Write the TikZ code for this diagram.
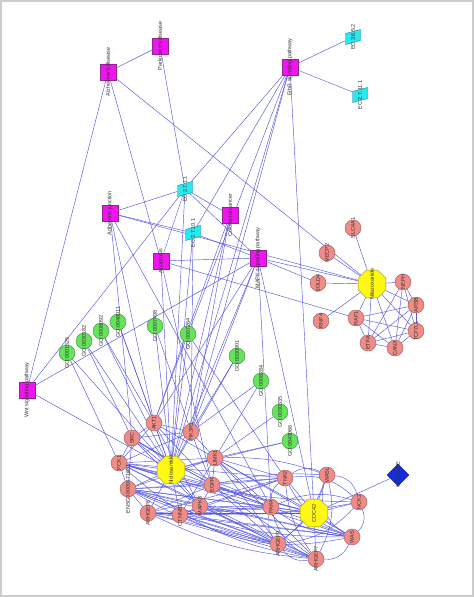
\documentclass[tikz,border=0pt]{standalone}
\usepackage{fontspec}
\newfontfamily\lblfont{Liberation Sans}
\usetikzlibrary{shapes.geometric}
\pgfdeclarelayer{bg}
\pgfsetlayers{bg,main}
\definecolor{edgec}{RGB}{85,85,228}
\definecolor{framec}{RGB}{205,205,205}
\definecolor{pinkc}{RGB}{240,140,135}
\definecolor{pinkd}{RGB}{150,90,90}
\definecolor{hubc}{RGB}{255,248,20}
\definecolor{hubd}{RGB}{140,140,60}
\definecolor{goc}{RGB}{100,228,90}
\definecolor{god}{RGB}{70,140,70}
\definecolor{keggc}{RGB}{240,20,240}
\definecolor{keggd}{RGB}{140,40,140}
\definecolor{ecc}{RGB}{40,232,240}
\definecolor{ecd}{RGB}{40,120,140}
\definecolor{drugc}{RGB}{20,45,225}
\definecolor{drugd}{RGB}{20,20,110}
\tikzset{
  edge/.style={draw=edgec, line width=0.45pt},
  pinknode/.style={circle, draw=pinkd, fill=pinkc, minimum size=16pt, inner sep=0pt, line width=0.4pt},
  hubnode/.style={regular polygon, regular polygon sides=8, draw=hubd, fill=hubc, minimum size=30pt, inner sep=0pt, line width=0.4pt},
  gonode/.style={circle, draw=god, fill=goc, minimum size=16pt, inner sep=0pt, line width=0.4pt},
  keggnode/.style={rectangle, draw=keggd, fill=keggc, minimum size=16pt, inner sep=0pt, line width=0.4pt},
  ecnode/.style={rectangle, draw=ecd, fill=ecc, minimum width=15pt, minimum height=11pt, inner sep=0pt, yslant=0.27, line width=0.4pt},
  drugnode/.style={diamond, draw=drugd, fill=drugc, minimum size=22pt, inner sep=0pt, line width=0.4pt},
  lbl/.style={rotate=90, font=\lblfont\fontsize{5.5}{6}\selectfont, inner sep=0pt, text=black!80}
}
\begin{document}
\begin{tikzpicture}[x=1pt,y=-1pt]
\useasboundingbox (0,0) rectangle (474,597);
\draw[framec, line width=2pt] (1.2,1.2) rectangle (472.8,595.8);

% KEGG pathways
\node[keggnode] (P1) at (108,72) {};
\node[keggnode] (P2) at (160,46) {};
\node[keggnode] (P3) at (290,67) {};
\node[keggnode] (P4) at (110,213) {};
\node[keggnode] (P5) at (230,215) {};
\node[keggnode] (P6) at (161,261) {};
\node[keggnode] (P7) at (258,258) {};
\node[keggnode] (P8) at (27,390) {};
% EC numbers
\node[ecnode] (E1) at (353,37) {};
\node[ecnode] (E2) at (360,95) {};
\node[ecnode] (E3) at (185,189) {};
\node[ecnode] (E4) at (193,233) {};
% GO terms
\node[gonode] (G1) at (67,353) {};
\node[gonode] (G2) at (84,341) {};
\node[gonode] (G3) at (101,331) {};
\node[gonode] (G4) at (118,322) {};
\node[gonode] (G5) at (155,326) {};
\node[gonode] (G6) at (188,334) {};
\node[gonode] (G7) at (237,356) {};
\node[gonode] (G8) at (261,381) {};
\node[gonode] (G9) at (280,412) {};
\node[gonode] (G10) at (290,441) {};
% hubs
\node[hubnode] (H1) at (171,470) {};
\node[hubnode] (H2) at (314,513) {};
\node[hubnode] (H3) at (372,284) {};
\node[drugnode] (D) at (398,475) {};
% left cluster
\node[pinknode] (a1) at (154,423) {};
\node[pinknode] (a2) at (191,432) {};
\node[pinknode] (a3) at (132,438) {};
\node[pinknode] (a4) at (119,463) {};
\node[pinknode] (a5) at (215,458) {};
\node[pinknode] (a6) at (128,489) {};
\node[pinknode] (a7) at (148,513) {};
\node[pinknode] (a8) at (180,515) {};
\node[pinknode] (a9) at (200,506) {};
\node[pinknode] (a10) at (212,485) {};
% CDC42 cluster
\node[pinknode] (c1) at (285,478) {};
\node[pinknode] (c2) at (327,475) {};
\node[pinknode] (c3) at (359,502) {};
\node[pinknode] (c4) at (271,507) {};
\node[pinknode] (c5) at (278,544) {};
\node[pinknode] (c6) at (352,537) {};
\node[pinknode] (c7) at (316,559) {};
% right cluster
\node[pinknode] (b1) at (353,228) {};
\node[pinknode] (b2) at (327,253) {};
\node[pinknode] (b3) at (318,283) {};
\node[pinknode] (b4) at (321,321) {};
\node[pinknode] (b5) at (356,318) {};
\node[pinknode] (b6) at (403,282) {};
\node[pinknode] (b7) at (416,305) {};
\node[pinknode] (b8) at (416,331) {};
\node[pinknode] (b9) at (368,343) {};
\node[pinknode] (b10) at (395,348) {};

\begin{pgfonlayer}{bg}
\foreach \s/\t in {P1/P2,P1/P8,P1/P6,P1/H3,P2/E3,
  P3/E1,P3/E2,P3/E3,P3/E4,P3/a1,P3/H1,P3/H2,P3/a2,
  P4/E3,P4/E4,P4/a1,P4/c4,P4/H3,P4/a3,
  P5/E3,P5/a1,P5/H1,P5/a2,
  P6/P7,P6/E3,P6/H1,P6/b5,P6/a10,
  P7/E3,P7/E4,P7/P8,P7/H1,P7/a2,P7/H2,P7/b3,P7/H3,P7/c4,P7/a1,
  P8/E3,P8/H1,E3/H1,E4/H1,E4/a2,
  G1/H1,G1/a4,G2/H1,G2/a3,G3/H1,G3/a1,G4/H1,G4/a1,G5/H1,G5/a2,G6/H1,G6/c1,
  G7/a2,G7/H1,G8/a2,G8/a5,G9/a5,G10/a5,G10/H1,D/H2,
  H3/b1,H3/b2,H3/b3,H3/b4,H3/b5,H3/b6,H3/b7,H3/b8,H3/b9,H3/b10,
  b5/b7,b5/b8,b5/b9,b5/b10,b6/b7,b6/b8,b6/b9,b6/b10,b7/b8,b7/b9,b7/b10,b8/b9,b8/b10,b9/b10,
  H1/a1,H1/a2,H1/a3,H1/a4,H1/a5,H1/a6,H1/a7,H1/a8,H1/a9,H1/a10,
  a1/a2,a1/a3,a1/a5,a1/a10,a1/a4,a2/a5,a2/a3,a2/a10,a3/a4,a3/a6,a3/a10,a3/a9,
  a4/a6,a4/a5,a4/a10,a5/a10,a5/a6,a6/a7,a6/a9,a6/a10,a7/a8,a7/a10,a8/a9,a8/a5,
  a9/a10,a2/a4,a1/a9,
  H2/c1,H2/c2,H2/c3,H2/c4,H2/c5,H2/c6,H2/c7}
  \draw[edge] (\s) -- (\t);
\foreach \s in {a4,a6,a7,a8,a9,a10,a5}
  \foreach \t in {c1,c4,c5,c7,H2,c6}
    \draw[edge] (\s) -- (\t);
\foreach \s/\t/\b in {a6/c6/12,a7/c7/10,a4/c3/8,a6/c3/14,a8/c6/18,a4/c7/16,a6/c5/10,a3/c4/6,a3/H2/8}
  \draw[edge] (\s) to[bend right=\b] (\t);
\foreach \s/\t/\b in {c1/c2/30,c2/c3/35,c3/c6/35,c6/c7/35,c7/c5/30,c5/c4/25,c4/c1/25,
  c2/c5/15,c2/c7/20,c3/c5/20,c4/c3/20,c1/c3/25,a5/c2/10,a10/c2/8}
  \draw[edge] (\s) to[bend left=\b] (\t);
\foreach \s/\t/\b in {c1/c6/20,c4/c6/15,c1/c7/15,c2/c6/40,c4/c7/25}
  \draw[edge] (\s) to[bend right=\b] (\t);
\end{pgfonlayer}

% labels
\node[lbl] (P1l) at (P1) {Alzheimer's disease};
\node[lbl] (P2l) at (P2) {Parkinson's disease};
\node[lbl] (P3l) at (P3) {ErbB signaling pathway};
\node[lbl] (P4l) at (P4) {Adherens junction};
\node[lbl] (P5l) at (P5) {Colorectal cancer};
\node[lbl] (P6l) at (P6) {Apoptosis};
\node[lbl] (P7l) at (P7) {MAPK signaling pathway};
\node[lbl] (P8l) at (P8) {Wnt signaling pathway};
\node[lbl] (E1l) at (E1) {EC 3.6.5.2};
\node[lbl] (E2l) at (E2) {EC 2.7.11.1};
\node[lbl] (E3l) at (E3) {EC 2.7.1.1};
\node[lbl] (E4l) at (E4) {EC 2.7.10.1};
\node[lbl] (G1l) at (G1) {GO:0001525};
\node[lbl] (G2l) at (G2) {GO:0030182};
\node[lbl] (G3l) at (G3) {GO:0008092};
\node[lbl] (G4l) at (G4) {GO:0048011};
\node[lbl] (G5l) at (G5) {GO:0007498};
\node[lbl] (G6l) at (G6) {GO:0007264};
\node[lbl] (G7l) at (G7) {GO:0030901};
\node[lbl] (G8l) at (G8) {GO:0008284};
\node[lbl] (G9l) at (G9) {GO:0030335};
\node[lbl] (G10l) at (G10) {GO:0043066};
\node[lbl] (H1l) at (H1) {Niclosamide};
\node[lbl] (H2l) at (H2) {CDC42};
\node[lbl] (H3l) at (H3) {Nitazoxanide};
\node[lbl] (Dl) at (D) {CDC42SE};
\node[lbl] (a1l) at (a1) {AKT1};
\node[lbl] (a2l) at (a2) {PIK3R1};
\node[lbl] (a3l) at (a3) {SRC};
\node[lbl] (a4l) at (a4) {PCK1};
\node[lbl] (a5l) at (a5) {LIMK1};
\node[lbl] (a6l) at (a6) {ENSG00000171681};
\node[lbl] (a7l) at (a7) {ARHGEF6};
\node[lbl] (a8l) at (a8) {CTNNB1};
\node[lbl] (a9l) at (a9) {MAPK8};
\node[lbl] (a10l) at (a10) {EGFR};
\node[lbl] (c1l) at (c1) {TNK2};
\node[lbl] (c2l) at (c2) {WASL};
\node[lbl] (c3l) at (c3) {NCK2};
\node[lbl] (c4l) at (c4) {PAK4};
\node[lbl] (c5l) at (c5) {ARHGEF9};
\node[lbl] (c6l) at (c6) {WAS};
\node[lbl] (c7l) at (c7) {ARHGEF7};
\node[lbl] (b1l) at (b1) {SLC4A1};
\node[lbl] (b2l) at (b2) {MECP2};
\node[lbl] (b3l) at (b3) {SOLD4};
\node[lbl] (b4l) at (b4) {RNF4};
\node[lbl] (b5l) at (b5) {RAF1};
\node[lbl] (b6l) at (b6) {NEFH};
\node[lbl] (b7l) at (b7) {ARSB};
\node[lbl] (b8l) at (b8) {TCF7L1};
\node[lbl] (b9l) at (b9) {ETFA};
\node[lbl] (b10l) at (b10) {CANX};
\end{tikzpicture}
\end{document}
